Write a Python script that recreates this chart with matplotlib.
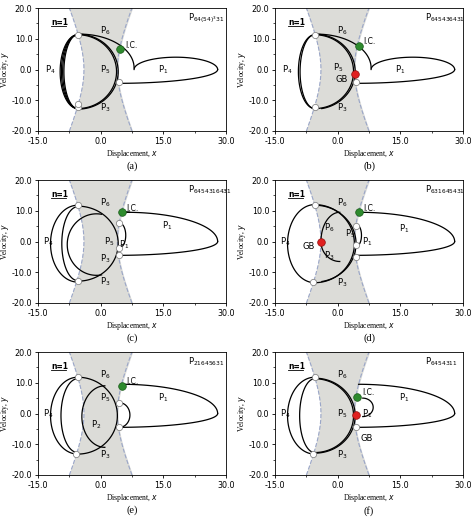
import numpy as np
import matplotlib
matplotlib.use("Agg")
import matplotlib.pyplot as plt
from matplotlib.ticker import AutoMinorLocator

panel_letters = ["(a)", "(b)", "(c)", "(d)", "(e)", "(f)"]
sequence_labels = [r"P$_{64(54)^{3}31}$", r"P$_{645436431}$", r"P$_{6454316431}$",
                   r"P$_{631645431}$", r"P$_{21645631}$", r"P$_{6454311}$"]
x_ticks = [-15.0, 0.0, 15.0, 30.0]
y_ticks = [-20.0, -10.0, 0.0, 10.0, 20.0]

# elliptic arc segments: (cx, cy, rx, ry, theta0_deg, theta1_deg)
arcs = [
    # (a)
    [(-5.5, -0.7, 3.3, 12, 90, 270), (-5.5, -0.7, 3.6, 12, 90, 270), (-5.5, -0.7, 3.9, 12, 90, 270),
     (-5.5, -0.7, 4.2, 12, 90, 270), (-5.5, -0.7, 9.3, 12, 90, -90), (-5.5, -0.7, 9.7, 12.2, 90, -90),
     (-5, 0.5, 13, 11, 90, 0), (18, 0, 10, 4, 180, 0), (4, 0, 24, 4.5, 0, -90)],
    # (b)
    [(-5.5, -0.7, 3.5, 12, 90, 270), (-5.5, -0.7, 3.9, 12, 90, 270), (-5.5, -0.7, 9.3, 12, 90, -90),
     (-5.5, -0.7, 9.7, 12.2, 90, -80), (-5, 0.5, 13, 11, 90, 0), (18, 0, 10, 4, 180, 0), (4, 0, 24, 4.5, 0, -90)],
    # (c)
    [(-5.5, -0.7, 6.5, 12.5, 90, 270), (-5.5, -0.7, 3.8, 12, 90, 270), (-5.5, -0.7, 9.7, 12.2, 90, -90),
     (-1, -1, 7, 10, 80, 280), (4.5, 2, 1.5, 4, 90, -90), (6, 9.5, 1, 0.1, 180, 0),
     (6, 0, 22, 9.5, 90, 0), (4, 0, 24, 4.5, 0, -90)],
    # (d)
    [(-5.5, -0.7, 6.5, 12.7, 90, 270), (-5.5, -0.7, 9.5, 12.7, 90, -90), (-5.5, -0.7, 9.9, 12.5, 90, -80),
     (0.5, 0, 4.5, 9.5, 180, 90), (0.5, 0, 4.5, 6.5, 180, 270), (4.5, 2, 1.2, 3.5, 90, -90),
     (5, 0, 23, 9.5, 90, 0), (4, 0, 24, 4.5, 0, -90)],
    # (e)
    [(-5.5, -0.7, 6.5, 12.5, 90, 270), (-5.5, -0.7, 9.5, 12.5, 90, -90), (-5.5, -0.7, 4, 12, 90, 270),
     (1, -1, 5.5, 10, 90, 270), (4.5, -0.5, 2.5, 4, 90, -90), (5, 0, 23, 9.5, 90, 0), (4, 0, 24, 4.5, 0, -90)],
    # (f)
    [(-5.5, -0.7, 6.5, 12.5, 90, 270), (-5.5, -0.7, 3.6, 12, 90, 270), (-5.5, -0.7, 9.3, 12, 90, -90),
     (-5.5, -0.7, 9.7, 12.2, 90, -90), (6, 2, 2.5, 3, 90, -90), (5, 0, 23, 9.5, 90, 0), (4, 0, 24, 4.5, 0, -90)],
]
white_pts = [
    [(-5.5, 11.3), (-5.5, -12.3), (-5.5, -11.2), (4.5, -4.2)],
    [(-5.5, 11.3), (-5.5, -12.3), (4.5, -4.2)],
    [(-5.5, 11.8), (-5.5, -12.8), (4.5, 6), (4.5, -2), (4.5, -4.5)],
    [(-5.5, 11.8), (-6, -13.3), (4.5, 5), (4.5, -1.3), (4.5, -5)],
    [(-5.5, 11.8), (-6, -13.3), (4.5, 3.5), (4.5, -4.5)],
    [(-5.5, 11.8), (-6, -13.3), (4.5, -4.5)],
]
ic_pts = [(4.7, 6.6), (5, 7.8), (5, 9.5), (5, 9.5), (5, 9), (4.7, 5.5)]
gb_pts = [None, (4.2, -1.5), None, (-4, 0), None, (4.5, -0.5)]
seg_labels = [
    [("P$_6$", 1, 12.5), ("P$_5$", 1, 0), ("P$_4$", -12, 0), ("P$_3$", 1, -12.5), ("P$_1$", 15, 0)],
    [("P$_6$", 1, 12.5), ("P$_5$", 0, 0.5), ("P$_4$", -12, 0), ("P$_3$", 1, -12.5), ("P$_1$", 15, 0), ("GB", 1, -3.2)],
    [("P$_6$", 1, 12.5), ("P$_5$", 2, 0), ("P$_4$", -12.5, 0), ("P$_3$", 1, -13), ("P$_1$", 5.5, -1), ("P$_1$", 16, 5), ("P$_3$", 1, -5.5)],
    [("P$_6$", 1, 12.5), ("P$_5$", 3, 2.5), ("P$_4$", -12.5, 0), ("P$_3$", 1, -13.5), ("P$_1$", 7, 0), ("P$_1$", 16, 4), ("P$_6$", -2, 4.5), ("P$_3$", -2, -4.5), ("GB", -7, -1.5)],
    [("P$_6$", 1, 12.5), ("P$_5$", 1, 5), ("P$_4$", -12.5, 0), ("P$_3$", 1, -13.5), ("P$_1$", 15, 5), ("P$_2$", -1, -3.5)],
    [("P$_6$", 1, 12.5), ("P$_5$", 1, 0), ("P$_4$", -12.5, 0), ("P$_3$", 1, -13.5), ("P$_1$", 16, 5), ("P$_1$", 7, 0), ("GB", 7, -8)],
]

fig = plt.figure(figsize=(4.74, 5.21), dpi=100)
lefts = [38 / 474, 275 / 474]
tops = [8, 180, 352]
H = 123
yy = np.linspace(-20, 20, 200)
edge = np.sqrt(16 + 0.1 * yy ** 2)
for i in range(6):
    r, c = divmod(i, 2)
    ax = fig.add_axes([lefts[c], 1 - (tops[r] + H) / 521, 188 / 474, H / 521])
    ax.fill_betweenx(yy, -edge, edge, color="#dcdcd8", zorder=0)
    ax.plot(-edge, yy, ls="--", color="#9aa6c8", lw=0.8, zorder=1)
    ax.plot(edge, yy, ls="--", color="#9aa6c8", lw=0.8, zorder=1)
    for cx, cy, rx, ry, t0, t1 in arcs[i]:
        t = np.radians(np.linspace(t0, t1, 100))
        ax.plot(cx + rx * np.cos(t), cy + ry * np.sin(t), color="black", lw=0.9, zorder=2)
    for px, py in white_pts[i]:
        ax.plot(px, py, "o", ms=4.5, mfc="white", mec="#888888", mew=0.6, zorder=3)
    ax.plot(*ic_pts[i], "o", ms=5.5, mfc="#2e8b2e", mec="#1a5a1a", mew=0.5, zorder=4)
    ax.text(ic_pts[i][0] + 1.2, ic_pts[i][1] + 0.5, "I.C.", fontsize=5.5, zorder=5)
    if gb_pts[i] is not None:
        ax.plot(*gb_pts[i], "o", ms=5.5, mfc="#e02020", mec="#901010", mew=0.5, zorder=4)
    for s, lx, ly in seg_labels[i]:
        ax.text(lx, ly, s, fontsize=6, ha="center", va="center", zorder=5)
    ax.text(0.07, 0.86, "n=1", transform=ax.transAxes, fontsize=5.5, fontweight="bold")
    ax.plot([0.07, 0.15], [0.85, 0.85], transform=ax.transAxes, color="black", lw=0.6)
    ax.text(21, 16, sequence_labels[i], fontsize=6)
    ax.set_xlim(-15, 30)
    ax.set_ylim(-20, 20)
    ax.set_xticks(x_ticks)
    ax.set_yticks(y_ticks)
    ax.set_xticklabels([f"{v:.1f}" for v in x_ticks])
    ax.set_yticklabels([f"{v:.1f}" for v in y_ticks])
    ax.xaxis.set_minor_locator(AutoMinorLocator(2))
    ax.yaxis.set_minor_locator(AutoMinorLocator(2))
    ax.tick_params(labelsize=5.8, length=2.5, width=0.6, direction="out", pad=1.5)
    ax.tick_params(which="minor", length=1.5, width=0.5)
    for sp in ax.spines.values():
        sp.set_linewidth(0.6)
    ax.set_xlabel("Displacement, $x$", fontsize=5.5, family="Liberation Serif", labelpad=2)
    ax.set_ylabel("Velocity, $y$", fontsize=5.5, family="Liberation Serif", labelpad=1)
    ax.text(0.5, -0.25, panel_letters[i], transform=ax.transAxes, ha="center", va="top",
            fontsize=7.5, family="Liberation Serif")
fig.savefig("out.png", dpi=100)
